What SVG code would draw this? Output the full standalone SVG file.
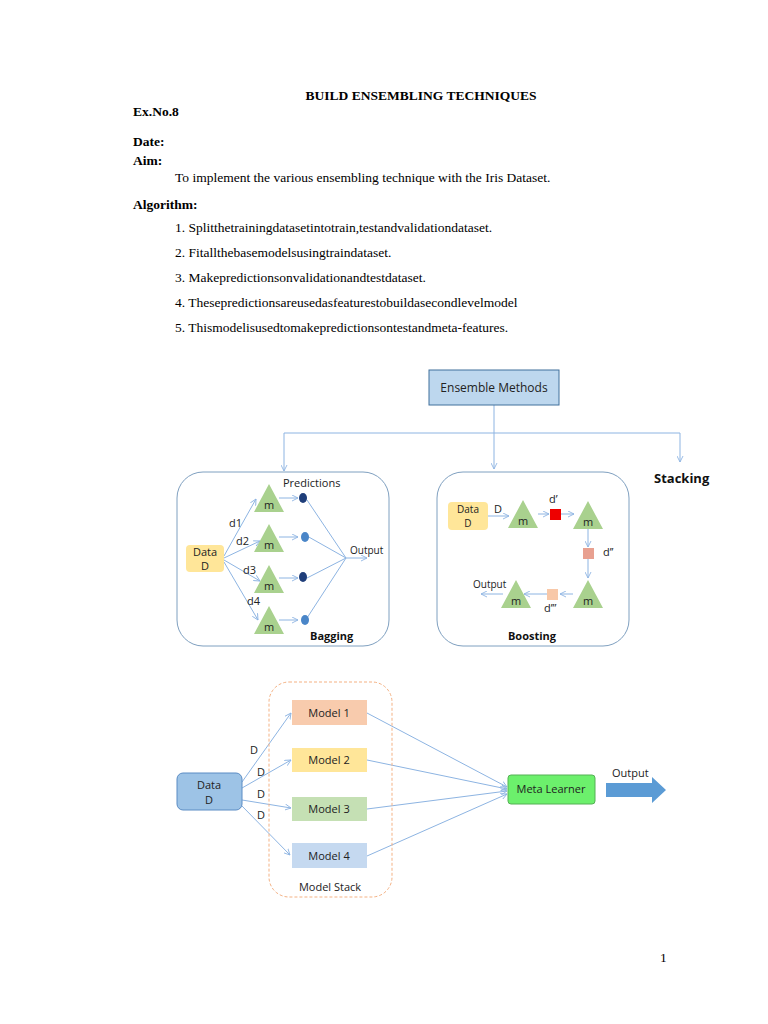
<svg xmlns="http://www.w3.org/2000/svg" width="768" height="1024" viewBox="0 0 768 1024">
<style>
.t{font-family:"Liberation Serif",serif;font-size:13.5px;fill:#000}
.b{font-weight:bold}
.s{font-family:"Open Sans","Liberation Sans",sans-serif;font-size:11px;fill:#222}
.sb{font-family:"Open Sans","Liberation Sans",sans-serif;font-size:12px;font-weight:bold;fill:#111}
.ln{stroke:#8db4e2;stroke-width:1;fill:none}
.tri{fill:#a9d18e}
</style>
<defs>
<marker id="a" viewBox="0 0 8 8" refX="7" refY="4" markerWidth="7" markerHeight="7" orient="auto"><path d="M0,0.5 L7,4 L0,7.5" fill="none" stroke="#8db4e2" stroke-width="1"/></marker>
</defs>
<rect width="768" height="1024" fill="#fff"/>
<text class="t b" x="421" y="100" text-anchor="middle">BUILD ENSEMBLING TECHNIQUES</text>
<text class="t b" x="133" y="116">Ex.No.8</text>
<text class="t b" x="133" y="146">Date:</text>
<text class="t b" x="133" y="165">Aim:</text>
<text class="t" x="175" y="182">To implement the various ensembling technique with the Iris Dataset.</text>
<text class="t b" x="133" y="209">Algorithm:</text>
<text class="t" x="175" y="232">1. Splitthetrainingdatasetintotrain,testandvalidationdataset.</text>
<text class="t" x="175" y="257">2. Fitallthebasemodelsusingtraindataset.</text>
<text class="t" x="175" y="282">3. Makepredictionsonvalidationandtestdataset.</text>
<text class="t" x="175" y="307">4. Thesepredictionsareusedasfeaturestobuildasecondlevelmodel</text>
<text class="t" x="175" y="332">5. Thismodelisusedtomakepredictionsontestandmeta-features.</text>
<text class="t" x="660" y="962">1</text>

<g id="connectors">
<path class="ln" d="M494,405 V433 M284,433 H680"/>
<path class="ln" d="M284,433 V471" marker-end="url(#a)"/>
<path class="ln" d="M494,433 V469" marker-end="url(#a)"/>
<path class="ln" d="M680,433 V462" marker-end="url(#a)"/>
<!-- bagging -->
<path class="ln" d="M224,556 L256,499" marker-end="url(#a)"/>
<path class="ln" d="M224,558 L260,541" marker-end="url(#a)"/>
<path class="ln" d="M224,560 L260,581" marker-end="url(#a)"/>
<path class="ln" d="M224,562 L258,620" marker-end="url(#a)"/>
<path class="ln" d="M279,498 H298" marker-end="url(#a)"/>
<path class="ln" d="M279,537 H298" marker-end="url(#a)"/>
<path class="ln" d="M279,578 H298" marker-end="url(#a)"/>
<path class="ln" d="M279,620 H298" marker-end="url(#a)"/>
<path class="ln" d="M307,500 L346,558 L307,536 M307,578 L346,558 L307,618"/>
<path class="ln" d="M346,558 H367" marker-end="url(#a)"/>
<!-- boosting -->
<path class="ln" d="M488,516 H509" marker-end="url(#a)"/>
<path class="ln" d="M538,514 H549" marker-end="url(#a)"/>
<path class="ln" d="M561,514 H574" marker-end="url(#a)"/>
<path class="ln" d="M588,529 V547" marker-end="url(#a)"/>
<path class="ln" d="M588,559 V578" marker-end="url(#a)"/>
<path class="ln" d="M573,594 H560" marker-end="url(#a)"/>
<path class="ln" d="M547,594 H524" marker-end="url(#a)"/>
<path class="ln" d="M503,594 H481" marker-end="url(#a)"/>
<!-- stacking -->
<path class="ln" d="M242,782 L291,713" marker-end="url(#a)"/>
<path class="ln" d="M242,788 L291,760" marker-end="url(#a)"/>
<path class="ln" d="M242,800 L291,808" marker-end="url(#a)"/>
<path class="ln" d="M242,806 L290,855" marker-end="url(#a)"/>
<path class="ln" d="M367,713 L507,787" marker-end="url(#a)"/>
<path class="ln" d="M367,760 L507,789" marker-end="url(#a)"/>
<path class="ln" d="M367,809 L507,791" marker-end="url(#a)"/>
<path class="ln" d="M367,856 L507,794" marker-end="url(#a)"/>
</g>

<g id="ensemble-methods"><rect x="429" y="370" width="130" height="35" fill="#bdd7ee" stroke="#41719c"/><text class="s" x="494" y="392" text-anchor="middle" style="font-size:12px">Ensemble Methods</text></g>
<g id="stacking"><text class="sb" x="654" y="483" style="font-size:13px">Stacking</text></g>

<g id="bagging">
<rect x="177" y="472" width="212" height="174" rx="26" fill="none" stroke="#7fa0c0"/>
<rect x="186" y="545" width="38" height="27" rx="4" fill="#ffe699"/>
<text class="s" x="205" y="556" text-anchor="middle">Data</text><text class="s" x="205" y="570" text-anchor="middle">D</text>
<path class="tri" d="M269,484 L284,512 L254,512Z M269,524 L284,552 L254,552Z M269,565 L284,593 L254,593Z M269,606 L284,634 L254,634Z"/>
<text class="s" x="269" y="509" text-anchor="middle">m</text><text class="s" x="269" y="549" text-anchor="middle">m</text>
<text class="s" x="269" y="590" text-anchor="middle">m</text><text class="s" x="269" y="631" text-anchor="middle">m</text>
<ellipse cx="303" cy="498" rx="4" ry="5" fill="#1f3e7a"/><ellipse cx="305" cy="537" rx="4" ry="5" fill="#4a86c8"/>
<ellipse cx="303" cy="577" rx="4" ry="5" fill="#1f3e7a"/><ellipse cx="305" cy="620" rx="4" ry="5" fill="#4a86c8"/>
<text class="s" x="283" y="487">Predictions</text>
<text class="s" x="350" y="554" style="font-size:10px">Output</text>
<text class="s" x="229" y="527">d1</text><text class="s" x="236" y="545">d2</text>
<text class="s" x="243" y="574">d3</text><text class="s" x="247" y="605">d4</text>
<text class="sb" x="310" y="640" style="font-size:11px">Bagging</text>
</g>

<g id="boosting">
<rect x="437" y="472" width="192" height="174" rx="26" fill="none" stroke="#7fa0c0"/>
<rect x="448" y="502" width="40" height="28" rx="4" fill="#ffe699"/>
<text class="s" x="468" y="513" text-anchor="middle" style="font-size:10px">Data</text><text class="s" x="468" y="527" text-anchor="middle" style="font-size:10px">D</text>
<text class="s" x="494" y="513">D</text>
<path class="tri" d="M523,500 L538,528 L508,528Z M588,501 L603,529 L573,529Z M588,580 L603,608 L573,608Z M516,580 L531,608 L501,608Z"/>
<text class="s" x="523" y="525" text-anchor="middle">m</text><text class="s" x="588" y="526" text-anchor="middle">m</text>
<text class="s" x="588" y="605" text-anchor="middle">m</text><text class="s" x="516" y="605" text-anchor="middle">m</text>
<rect x="550" y="509" width="11" height="11" fill="#e00"/>
<rect x="583" y="548" width="11" height="11" fill="#e8a090"/>
<rect x="547" y="589" width="11" height="11" fill="#f8c8a8"/>
<text class="s" x="549" y="503">d’</text><text class="s" x="603" y="556">d’’</text><text class="s" x="544" y="612">d’’’</text>
<text class="s" x="473" y="588" style="font-size:10px">Output</text>
<text class="sb" x="532" y="640" text-anchor="middle" style="font-size:11px">Boosting</text>
</g>

<g id="model-stack"><rect x="269" y="682" width="123" height="215" rx="20" fill="none" stroke="#f4b183" stroke-dasharray="3,2"/><text class="s" x="330" y="891" text-anchor="middle">Model Stack</text></g>
<g id="data-d"><rect x="177" y="773" width="65" height="37" rx="6" fill="#9dc3e6" stroke="#5b8cc4"/><text class="s" x="209" y="789" text-anchor="middle">Data</text><text class="s" x="209" y="804" text-anchor="middle">D</text></g>
<g id="model-1"><rect x="292" y="700" width="75" height="25" fill="#f8cbad"/><text class="s" x="329" y="717" text-anchor="middle">Model 1</text></g>
<g id="model-2"><rect x="292" y="748" width="75" height="24" fill="#ffe699"/><text class="s" x="329" y="764" text-anchor="middle">Model 2</text></g>
<g id="model-3"><rect x="292" y="797" width="75" height="24" fill="#c5e0b4"/><text class="s" x="329" y="813" text-anchor="middle">Model 3</text></g>
<g id="model-4"><rect x="292" y="843" width="75" height="25" fill="#c5d9f0"/><text class="s" x="329" y="860" text-anchor="middle">Model 4</text></g>
<text class="s" x="250" y="754">D</text><text class="s" x="257" y="776">D</text><text class="s" x="257" y="798">D</text><text class="s" x="257" y="819">D</text>
<g id="meta-learner"><rect x="508" y="775" width="87" height="29" rx="3" fill="#6cf06c" stroke="#55b055"/><text class="s" x="551" y="793" text-anchor="middle">Meta Learner</text></g>
<g id="output"><path d="M606,783 H652 V777 L666,790 L652,803 V797 H606Z" fill="#5b9bd5"/><text class="s" x="612" y="777">Output</text></g>
</svg>
